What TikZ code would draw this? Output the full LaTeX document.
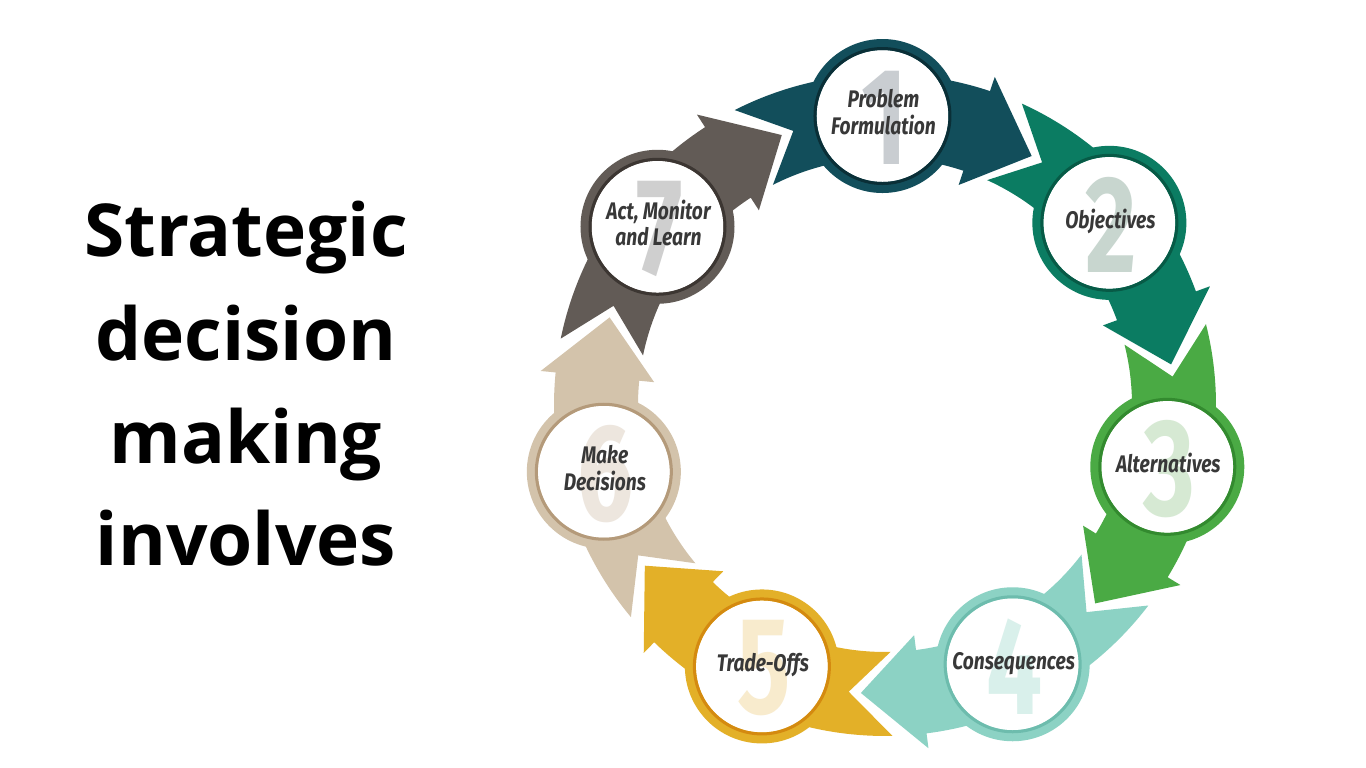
\documentclass[tikz,border=0pt]{standalone}
\usepackage{fontspec}
\setmainfont{Fira Sans}
\newfontfamily\titlefont{Open Sans}
\usetikzlibrary{calc}
\definecolor{bandA}{HTML}{124E5B}\definecolor{edgeA}{HTML}{0A2F37}\definecolor{numA}{HTML}{C9CDD1}
\definecolor{bandB}{HTML}{0B7C62}\definecolor{edgeB}{HTML}{075A46}\definecolor{numB}{HTML}{C8D6CF}
\definecolor{bandC}{HTML}{4AAA44}\definecolor{edgeC}{HTML}{338A2F}\definecolor{numC}{HTML}{D6E9D3}
\definecolor{bandD}{HTML}{8CD2C4}\definecolor{edgeD}{HTML}{6DBCAD}\definecolor{numD}{HTML}{D9F0EB}
\definecolor{bandE}{HTML}{E3B028}\definecolor{edgeE}{HTML}{D48A10}\definecolor{numE}{HTML}{F8EBCD}
\definecolor{bandF}{HTML}{D3C3AB}\definecolor{edgeF}{HTML}{B49A7A}\definecolor{numF}{HTML}{EDE6DE}
\definecolor{bandG}{HTML}{625B56}\definecolor{edgeG}{HTML}{3C3632}\definecolor{numG}{HTML}{CFCFCF}
\definecolor{labeltext}{HTML}{383838}
\tikzset{
  titletext/.style={anchor=base, inner sep=0, text=black, font=\titlefont\fontsize{73}{90}\selectfont\bfseries},
  stepcircle/.style={circle, minimum size=143pt, inner sep=0, fill=white, line width=11pt},
  bignum/.style={inner sep=0, font=\fontsize{138}{138}\selectfont\bfseries},
  steplabel/.style={inner sep=0, text=labeltext, font=\fontsize{24}{25}\selectfont\bfseries\itshape}
}
\newcommand{\lbl}[1]{\scalebox{0.8}[1]{\begin{tabular}{@{}c@{}}#1\end{tabular}}}
\newcommand{\dig}[1]{\scalebox{0.72}[1]{#1}}
\begin{document}
\begin{tikzpicture}[x=1pt,y=1pt]
\useasboundingbox (0,0) rectangle (1366,768);
\fill[white] (0,0) rectangle (1366,768);
\coordinate (O) at (885,363);

% title
\node[titletext] (t1) at (246,511) {Strategic};
\node[titletext] (t2) at (246,407) {decision};
\node[titletext] (t3) at (246,304) {making};
\node[titletext] (t4) at (246,202) {involves};

% ring arrows
\foreach \k/\col in {1/bandA,2/bandB,3/bandC,4/bandD,5/bandE,6/bandF,7/bandG}{
  \pgfmathsetmacro\th{90.5-51.4286*(\k-1)}
  \pgfmathsetmacro\ta{\th+26.5}
  \pgfmathsetmacro\tb{\th-19}
  \pgfmathsetmacro\tp{\th-31}
  \pgfmathsetmacro\tn{\th+18}
  \fill[\col] ($(O)+(\ta:331)$) arc[start angle=\ta, end angle=\tb, radius=331]
     -- ($(O)+(\tb:346)$) -- ($(O)+(\tp:289)$) -- ($(O)+(\tb:232)$) -- ($(O)+(\tb:247)$)
     arc[start angle=\tb, end angle=\ta, radius=247]
     -- ($(O)+(\tn:289)$) -- cycle;
}

% step circles
\foreach \k/\b/\e/\n/\txt in {
  1/bandA/edgeA/numA/{Problem\\Formulation},
  2/bandB/edgeB/numB/{Objectives},
  3/bandC/edgeC/numC/{Alternatives},
  4/bandD/edgeD/numD/{Consequences},
  5/bandE/edgeE/numE/{Trade-Offs},
  6/bandF/edgeF/numF/{Make\\Decisions},
  7/bandG/edgeG/numG/{Act, Monitor\\and Learn}}{
  \pgfmathsetmacro\th{90.5-51.4286*(\k-1)}
  \node[stepcircle, draw=\b] (c\k) at ($(O)+(\th:289)$) {};
  \draw[\e, line width=3pt] (c\k.center) circle[radius=67.5];
  \node[bignum, text=\n] (n\k) at ($(c\k.center)+(2,-2)$) {\dig{\k}};
  \node[steplabel] (l\k) at ($(c\k.center)+(1,0)$) {\lbl{\txt}};
}
\end{tikzpicture}
\end{document}
